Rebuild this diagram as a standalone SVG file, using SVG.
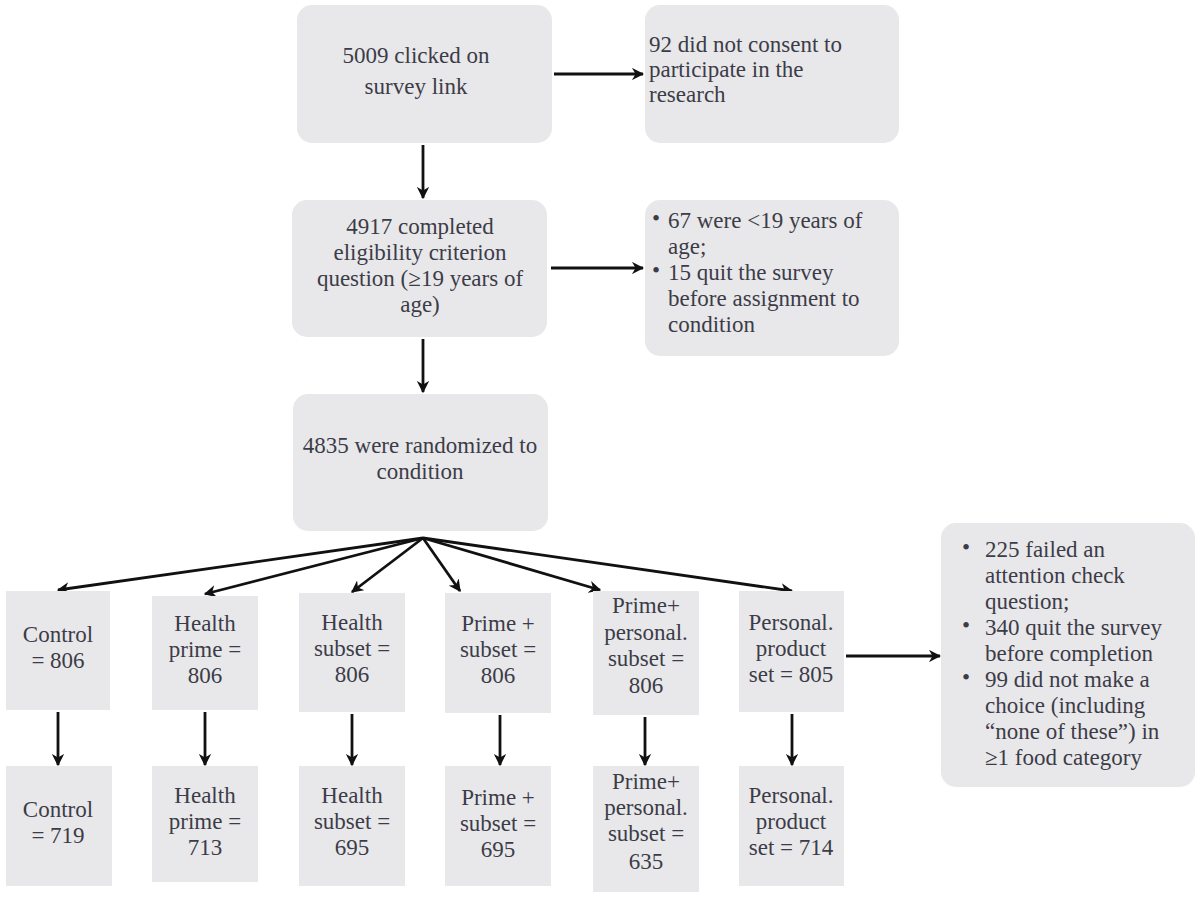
<svg xmlns="http://www.w3.org/2000/svg" width="1200" height="899" viewBox="0 0 1200 899">
<style>
.box{fill:#e8e8ea;stroke:none}
text{font-family:"Liberation Serif","Times New Roman",Times,"Noto Serif","DejaVu Serif",serif;font-size:23px;fill:#3c3c48}
.c{text-anchor:middle}
.ln{stroke:#111;stroke-width:2.8;fill:none;marker-end:url(#ah)}
</style>
<defs>
<marker id="ah" viewBox="0 0 10 10" refX="9" refY="5" markerWidth="4.4" markerHeight="4.4" orient="auto" markerUnits="strokeWidth">
<path d="M0,0 L10,5 L0,10 L3,5 z" fill="#111"/>
</marker>
</defs>
<rect width="1200" height="899" fill="#ffffff"/>
<g id="connectors">
<line class="ln" x1="554" y1="74" x2="643" y2="74"/>
<line class="ln" x1="423" y1="145" x2="423" y2="198"/>
<line class="ln" x1="551" y1="268" x2="643" y2="268"/>
<line class="ln" x1="423" y1="339" x2="423" y2="392"/>
<line class="ln" x1="423" y1="538" x2="58" y2="590"/>
<line class="ln" x1="423" y1="538" x2="205" y2="594"/>
<line class="ln" x1="423" y1="538" x2="352" y2="592"/>
<line class="ln" x1="423" y1="538" x2="460" y2="591"/>
<line class="ln" x1="423" y1="538" x2="600" y2="590"/>
<line class="ln" x1="423" y1="538" x2="792" y2="591"/>
<line class="ln" x1="846" y1="656" x2="940" y2="656"/>
<line class="ln" x1="58" y1="712" x2="58" y2="765"/>
<line class="ln" x1="205" y1="712" x2="205" y2="765"/>
<line class="ln" x1="352" y1="714" x2="352" y2="765"/>
<line class="ln" x1="500" y1="715" x2="500" y2="765"/>
<line class="ln" x1="645" y1="717" x2="645" y2="765"/>
<line class="ln" x1="792" y1="714" x2="792" y2="765"/>
</g>
<g id="n-clicked">
<rect class="box" x="297" y="5" width="255" height="138" rx="15"/>
<text class="c" x="416" y="63">5009 clicked on</text>
<text class="c" x="416" y="94">survey link</text>
</g>
<g id="n-noconsent">
<rect class="box" x="645" y="5" width="254" height="138" rx="15"/>
<text x="649" y="52">92 did not consent to</text>
<text x="649" y="77">participate in the</text>
<text x="649" y="102">research</text>
</g>
<g id="n-eligibility">
<rect class="box" x="292" y="200" width="255" height="137" rx="15"/>
<text class="c" x="420" y="234">4917 completed</text>
<text class="c" x="420" y="260">eligibility criterion</text>
<text class="c" x="420" y="286">question (≥19 years of</text>
<text class="c" x="420" y="312">age)</text>
</g>
<g id="n-excluded1">
<rect class="box" x="645" y="200" width="254" height="156" rx="15"/>
<text x="652" y="226">•</text><text x="668" y="228">67 were &lt;19 years of</text>
<text x="668" y="254">age;</text>
<text x="652" y="278">•</text><text x="668" y="280">15 quit the survey</text>
<text x="668" y="306">before assignment to</text>
<text x="668" y="332">condition</text>
</g>
<g id="n-randomized">
<rect class="box" x="293" y="394" width="255" height="137" rx="15"/>
<text class="c" x="420" y="453">4835 were randomized to</text>
<text class="c" x="420" y="479">condition</text>
</g>
<g id="n-excluded2">
<rect class="box" x="941" y="523" width="254" height="264" rx="15"/>
<text x="962" y="555">•</text><text x="985" y="557">225 failed an</text>
<text x="985" y="583">attention check</text>
<text x="985" y="609">question;</text>
<text x="962" y="633">•</text><text x="985" y="635">340 quit the survey</text>
<text x="985" y="661">before completion</text>
<text x="962" y="685">•</text><text x="985" y="687">99 did not make a</text>
<text x="985" y="713">choice (including</text>
<text x="985" y="739">“none of these”) in</text>
<text x="985" y="765">≥1 food category</text>
</g>
<g id="n-control1">
<rect class="box" x="6" y="591" width="104" height="119"/>
<text class="c" x="58" y="642">Control</text>
<text class="c" x="58" y="668">= 806</text>
</g>
<g id="n-hprime1">
<rect class="box" x="152" y="596" width="106" height="114"/>
<text class="c" x="205" y="631">Health</text>
<text class="c" x="205" y="657">prime =</text>
<text class="c" x="205" y="683">806</text>
</g>
<g id="n-hsubset1">
<rect class="box" x="299" y="593" width="106" height="119"/>
<text class="c" x="352" y="630">Health</text>
<text class="c" x="352" y="656">subset =</text>
<text class="c" x="352" y="682">806</text>
</g>
<g id="n-psubset1">
<rect class="box" x="445" y="593" width="106" height="120"/>
<text class="c" x="498" y="631">Prime +</text>
<text class="c" x="498" y="657">subset =</text>
<text class="c" x="498" y="683">806</text>
</g>
<g id="n-ppsubset1">
<rect class="box" x="593" y="591" width="106" height="124"/>
<text class="c" x="646" y="613">Prime+</text>
<text class="c" x="646" y="640">personal.</text>
<text class="c" x="646" y="666">subset =</text>
<text class="c" x="646" y="693">806</text>
</g>
<g id="n-personal1">
<rect class="box" x="739" y="591" width="105" height="121"/>
<text class="c" x="791" y="630">Personal.</text>
<text class="c" x="791" y="656">product</text>
<text class="c" x="791" y="682">set = 805</text>
</g>
<g id="n-control2">
<rect class="box" x="6" y="766" width="106" height="120"/>
<text class="c" x="58" y="817">Control</text>
<text class="c" x="58" y="843">= 719</text>
</g>
<g id="n-hprime2">
<rect class="box" x="152" y="766" width="106" height="116"/>
<text class="c" x="205" y="803">Health</text>
<text class="c" x="205" y="829">prime =</text>
<text class="c" x="205" y="855">713</text>
</g>
<g id="n-hsubset2">
<rect class="box" x="299" y="766" width="106" height="120"/>
<text class="c" x="352" y="803">Health</text>
<text class="c" x="352" y="829">subset =</text>
<text class="c" x="352" y="855">695</text>
</g>
<g id="n-psubset2">
<rect class="box" x="445" y="766" width="106" height="120"/>
<text class="c" x="498" y="805">Prime +</text>
<text class="c" x="498" y="831">subset =</text>
<text class="c" x="498" y="857">695</text>
</g>
<g id="n-ppsubset2">
<rect class="box" x="593" y="766" width="106" height="126"/>
<text class="c" x="646" y="789">Prime+</text>
<text class="c" x="646" y="815">personal.</text>
<text class="c" x="646" y="841">subset =</text>
<text class="c" x="646" y="869">635</text>
</g>
<g id="n-personal2">
<rect class="box" x="739" y="766" width="105" height="120"/>
<text class="c" x="791" y="803">Personal.</text>
<text class="c" x="791" y="829">product</text>
<text class="c" x="791" y="855">set = 714</text>
</g>
</svg>
